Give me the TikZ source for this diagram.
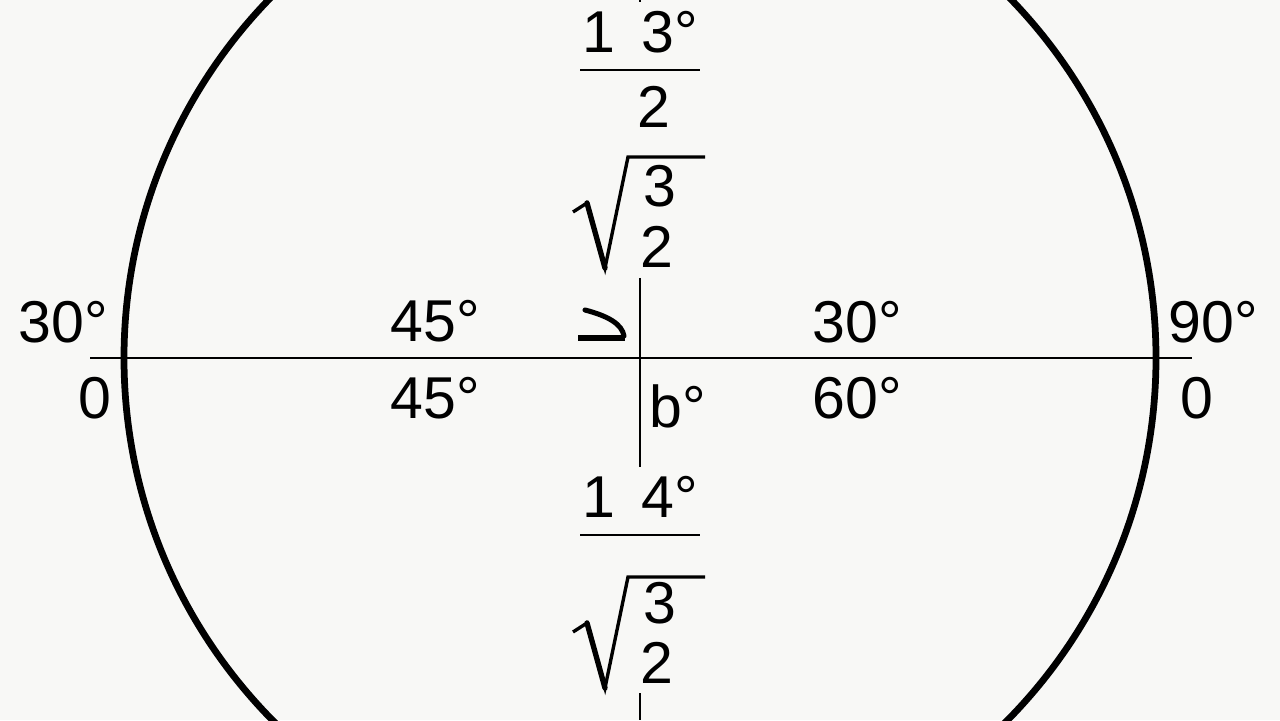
\documentclass[tikz,border=0pt]{standalone}
\usepackage{fontspec}
\setmainfont{Liberation Sans}
\usetikzlibrary{positioning}
\definecolor{paper}{RGB}{248,248,246}

\begin{document}
\begin{tikzpicture}[scale=1,
  lbl/.style={inner sep=0pt, anchor=base, font=\fontsize{42}{48}\selectfont},
  axis/.style={black, line width=1.6pt},
  radical/.style={black, line width=2.4pt, line join=miter},
  rootstem/.style={black, line width=3.8pt, line cap=round},
  fracbar/.style={black, line width=2pt}]

\fill[paper] (0,0) rectangle (32,18);
\useasboundingbox (0,0) rectangle (32,18);

%circle
\draw[black, line width=4.8pt] (16,9.05) circle (12.9);

%axes
\coordinate (west) at (2.25,9.05);
\coordinate (east) at (29.8,9.05);
\coordinate (north) at (16,11.05);
\coordinate (south) at (16,6.325);
\coordinate (tickA) at (16,0.675);
\coordinate (tickB) at (16,0);
\coordinate (tickC) at (16,18);
\coordinate (tickD) at (16,17.95);
\draw[axis] (west)--(east);
\draw[axis] (north)--(south);
\draw[axis] (tickA)--(tickB);
\draw[axis] (tickC)--(tickD);

%labels on the axis
\node[lbl] (lefttop) at (1.575,9.425) {30°};
\node[lbl] (leftbot) at (2.375,7.55) {0};
\node[lbl] (righttop) at (30.325,9.425) {90°};
\node[lbl] (rightbot) at (29.925,7.55) {0};
\node[lbl] (midltop) at (10.875,9.45) {45°};
\node[lbl] (midlbot) at (10.875,7.55) {45°};
\node[lbl] (midrtop) at (21.425,9.425) {30°};
\node[lbl] (midrbot) at (21.425,7.55) {60°};
\node[lbl] (bdeg) at (16.95,7.325) {b°};

%odd mark left of the axis
\draw[black, line width=3.6pt] (14.45,9.55)--(15.625,9.55);
\draw[black, line width=3.6pt, line cap=round] (14.625,10.25) .. controls (15.2,10.1) and (15.55,9.9) .. (15.6,9.6);

%upper fraction and root
\node[lbl] (numtop) at (16,16.675) {1\hspace{0.45em}3°};
\draw[fracbar] (14.5,16.25)--(17.5,16.25);
\node[lbl] (dentop) at (16.35,14.8) {2};
\draw[radical] (14.325,12.7)--(14.675,12.925)--(15.125,11.3)--(15.7,14.075)--(17.625,14.075);
\draw[rootstem] (14.675,12.925)--(15.125,11.3);
\node[lbl] (rootnumtop) at (16.5,12.825) {3};
\node[lbl] (rootdentop) at (16.425,11.3) {2};

%lower fraction and root
\node[lbl] (numbot) at (16,5.075) {1\hspace{0.45em}4°};
\draw[fracbar] (14.5,4.625)--(17.5,4.625);
\draw[radical] (14.325,2.2)--(14.675,2.425)--(15.125,0.8)--(15.7,3.575)--(17.625,3.575);
\draw[rootstem] (14.675,2.425)--(15.125,0.8);
\node[lbl] (rootnumbot) at (16.5,2.425) {3};
\node[lbl] (rootdenbot) at (16.425,0.925) {2};

\end{tikzpicture}
\end{document}
